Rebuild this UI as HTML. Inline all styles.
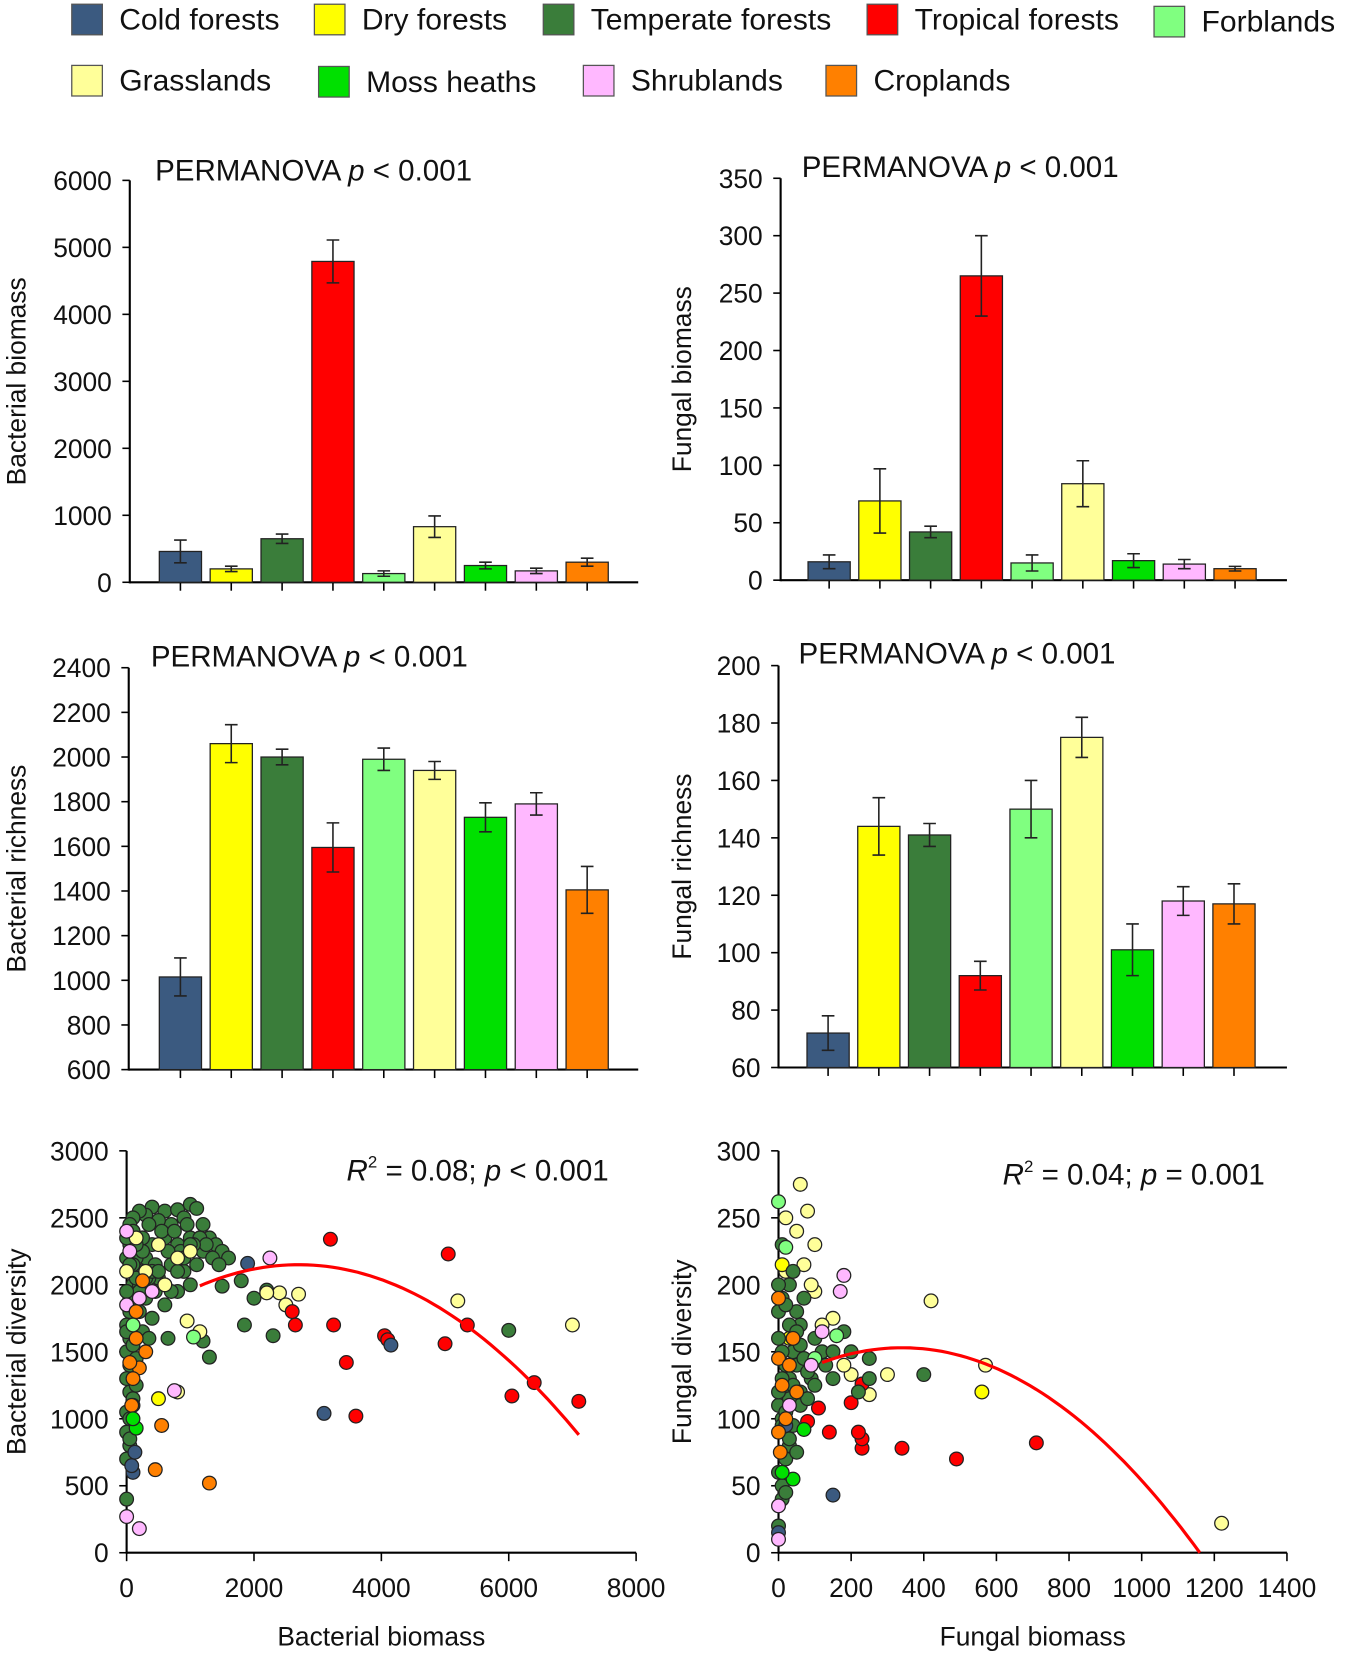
<!DOCTYPE html>
<html><head><meta charset="utf-8"><style>
html,body{margin:0;padding:0;background:#fff;}
svg{display:block;font-family:"Liberation Sans",Arial,sans-serif;}
</style></head><body>
<svg id="fig" width="1345" height="1654" viewBox="0 0 1275 1568" xmlns="http://www.w3.org/2000/svg">
<g id="legend"></g>
<g id="pA"></g>
<g id="pB"></g>
<g id="pC"></g>
<g id="pD"></g>
<g id="pE"></g>
<g id="pF"></g>
</svg>
<script>
const categories = ["Cold forests","Dry forests","Temperate forests","Tropical forests","Forblands","Grasslands","Moss heaths","Shrublands","Croplands"];
const colors = ["#3b5a80","#ffff00","#3a7d3a","#ff0000","#80ff80","#ffff99","#00e000","#ffb8ff","#ff8000"];
const bacBiomass = [460,200,650,4790,130,830,250,170,300];
const bacBiomassErr = [170,40,70,320,40,160,50,40,60];
const funBiomass = [16,69,42,265,15,84,17,14,10];
const funBiomassErr = [6,28,5,35,7,20,6,4,2];
const bacRich = [1015,2060,2000,1595,1990,1940,1730,1790,1405];
const bacRichErr = [85,85,35,110,50,40,65,50,105];
const funRich = [72,144,141,92,150,175,101,118,117];
const funRichErr = [6,10,4,5,10,7,9,5,7];
const ticksA = [0,1000,2000,3000,4000,5000,6000];
const ticksB = [0,50,100,150,200,250,300,350];
const ticksC = [600,800,1000,1200,1400,1600,1800,2000,2200,2400];
const ticksD = [60,80,100,120,140,160,180,200];
const ticksEy = [0,500,1000,1500,2000,2500,3000];
const ticksEx = [0,2000,4000,6000,8000];
const ticksFy = [0,50,100,150,200,250,300];
const ticksFx = [0,200,400,600,800,1000,1200,1400];
// group indices: 0 cold,1 dry,2 temperate,3 tropical,4 forb,5 grass,6 moss,7 shrub,8 crop
const bacX = [400,600,800,1000,1100,900,700,500,300,200,100,1200,1300,1400,1500,1600,1200,1000,800,600,400,300,200,100,50,700,900,1100,500,300,200,100,50,0,400,600,800,1000,150,50,0,50,0,0,100,250,50,0,150,350,450,650,1200,1500,1800,2000,2200,1850,1300,2300,6000,
 350,550,750,950,1150,1250,1350,1450,1050,850,650,450,250,150,50,0,100,200,300,400,500,600,700,800,900,1000,0,50,100,150,200,0,50,100,0,50,100,150,250,350,0,50,100,0,50,100,
 500,800,1000,300,600,150,0,5200,7000,2700,2400,2200,2500,950,1150,800,
 500,3200,5050,3250,5350,2600,2650,4050,4100,5000,3450,6400,6050,7100,3600,
 1900,3100,4150,100,80,130,
 2250,750,200,0,400,0,50,200,0,
 1300,450,550,300,200,100,150,250,150,50,80,
 1050,100,150,100];
const bacY = [2580,2550,2560,2600,2570,2500,2450,2480,2520,2550,2500,2450,2350,2300,2250,2200,2250,2350,2300,2350,2300,2200,2100,2000,1900,2150,2100,2150,2050,1900,1800,1700,1600,1500,1750,1850,1950,2000,1450,1200,1050,800,400,700,2400,2350,2300,2200,2200,2050,1950,1600,1580,1990,2030,1900,1960,1700,1460,1620,1660,
 2450,2400,2400,2450,2350,2300,2200,2150,2300,2250,2250,2150,2250,2300,2450,2350,2150,2000,2050,2100,2100,2000,1950,2100,2200,2300,1700,1800,1900,2050,1950,1300,1400,1550,1650,1000,1150,1250,1650,1600,900,850,1100,1950,2150,2400,
 2300,2200,2250,2100,2000,2350,2100,1880,1700,1930,1940,1940,1850,1730,1650,1200,
 1150,2340,2230,1700,1700,1800,1700,1620,1590,1560,1420,1270,1170,1130,1020,
 2160,1040,1550,600,650,750,
 2200,1210,180,270,1950,2400,2250,1900,1850,
 520,620,950,1500,1380,1300,1600,2030,1800,1420,1100,
 1610,1700,930,1000];
const bacG = [2,2,2,2,2,2,2,2,2,2,2,2,2,2,2,2,2,2,2,2,2,2,2,2,2,2,2,2,2,2,2,2,2,2,2,2,2,2,2,2,2,2,2,2,2,2,2,2,2,2,2,2,2,2,2,2,2,2,2,2,2,
 2,2,2,2,2,2,2,2,2,2,2,2,2,2,2,2,2,2,2,2,2,2,2,2,2,2,2,2,2,2,2,2,2,2,2,2,2,2,2,2,2,2,2,2,2,2,
 5,5,5,5,5,5,5,5,5,5,5,5,5,5,5,5,
 1,3,3,3,3,3,3,3,3,3,3,3,3,3,3,
 0,0,0,0,0,0,
 7,7,7,7,7,7,7,7,7,
 8,8,8,8,8,8,8,8,8,8,8,
 4,4,6,6];
const funX = [60,80,20,420,570,300,200,250,100,70,100,150,120,20,50,90,180,1220,
 560,10,30,
 710,490,340,230,230,220,140,200,230,110,80,
 400,250,220,150,130,180,100,60,40,20,10,30,50,70,30,10,40,0,20,30,10,0,50,60,90,120,150,200,250,
 0,10,20,30,40,50,60,70,80,0,10,20,30,40,50,0,10,20,30,0,10,20,0,10,20,30,40,60,80,100,
 150,20,0,
 0,20,160,100,
 40,70,10,
 180,170,0,0,120,90,30,
 0,0,10,20,0,40,30,5,50];
const funY = [275,255,250,188,140,133,133,118,230,215,195,175,170,210,240,200,140,22,
 120,215,160,
 82,70,78,78,85,90,90,112,126,108,98,
 133,145,120,130,140,165,160,170,150,130,100,120,180,190,200,230,210,180,70,80,40,20,75,110,130,150,150,150,130,
 160,150,140,130,125,140,155,145,135,200,190,185,170,160,165,110,95,105,115,60,50,45,120,130,90,85,95,120,115,125,
 43,95,15,
 262,228,162,145,
 55,92,60,
 207,195,10,35,165,140,110,
 190,145,125,100,90,160,140,75,120];
const funG = [5,5,5,5,5,5,5,5,5,5,5,5,5,5,5,5,5,5,
 1,1,1,
 3,3,3,3,3,3,3,3,3,3,3,
 2,2,2,2,2,2,2,2,2,2,2,2,2,2,2,2,2,2,2,2,2,2,2,2,2,2,2,2,2,
 2,2,2,2,2,2,2,2,2,2,2,2,2,2,2,2,2,2,2,2,2,2,2,2,2,2,2,2,2,2,
 0,0,0,
 4,4,4,4,
 6,6,6,
 7,7,7,7,7,7,7,
 8,8,8,8,8,8,8,8,8];
// quadratic fit coefficients (vertex form): vertex x, vertex y, curvature
const fitE = [2700,2150,-6.56e-5], fitErangeX=[1150,7100];
const fitF = [340,153,-2.275e-4], fitFrangeX=[120,1160];

const NS="http://www.w3.org/2000/svg";
function mk(parent,tag,attrs,text){const e=document.createElementNS(NS,tag);for(const k in attrs)e.setAttribute(k,attrs[k]);if(text!==undefined)e.textContent=text;parent.appendChild(e);return e;}
function lin(d0,d1,r0,r1){return v=>r0+(v-d0)*(r1-r0)/(d1-d0);}

// legend
const L=document.getElementById('legend');
const legPos=[[68,4],[298,4],[515,4],[822,4],[1094,6],[68,62],[302,63],[553,62],[783,62]];
categories.forEach((c,i)=>{
 const g=mk(L,'g',{});
 
 
 mk(g,'rect',{x:legPos[i][0],y:legPos[i][1],width:29,height:29,fill:colors[i],stroke:'#555','stroke-width':1.2});
 mk(g,'text',{x:legPos[i][0]+45,y:legPos[i][1]+24,'font-size':28.5,fill:'#111'},c);
});

function barPanel(id,vals,errs,ticks,ax,yZero,yTop,x1,off,step,tx,ty,ylabel,lx){
 const P=document.getElementById(id);
 const ymin=ticks[0],ymax=ticks[ticks.length-1];
 const sy=lin(ymin,ymax,yZero,yTop);
 mk(P,'line',{x1:ax,y1:yTop,x2:ax,y2:yZero+1,stroke:'#000','stroke-width':2});
 mk(P,'line',{x1:ax,y1:yZero,x2:x1,y2:yZero,stroke:'#000','stroke-width':2});
 ticks.forEach(t=>{
  mk(P,'line',{x1:ax-7,y1:sy(t),x2:ax,y2:sy(t),stroke:'#000','stroke-width':1.5});
  const tl=mk(P,'text',{x:ax-17,y:sy(t)+9,'font-size':25,'text-anchor':'end',fill:'#111'},t);
  
  
 });
 vals.forEach((v,i)=>{
  const cx=ax+off+step*i;
  mk(P,'line',{x1:cx,y1:yZero,x2:cx,y2:yZero+8,stroke:'#000','stroke-width':1.5});
  const b=mk(P,'rect',{x:cx-20,y:sy(v),width:40,height:yZero-sy(v),fill:colors[i],stroke:'#222','stroke-width':1.2});
  
  
  const e=errs[i];
  mk(P,'path',{d:`M${cx},${sy(v-e)}V${sy(v+e)}M${cx-6},${sy(v-e)}H${cx+6}M${cx-6},${sy(v+e)}H${cx+6}`,stroke:'#222','stroke-width':1.5,fill:'none'});
 });
 const t=mk(P,'text',{x:tx,y:ty,'font-size':28,fill:'#111'});
 
 
 t.innerHTML='PERMANOVA <tspan font-style="italic">p</tspan> &lt; 0.001';
 const yl=mk(P,'text',{x:lx,y:(yZero+yTop)/2,'font-size':25,'text-anchor':'middle',transform:`rotate(-90 ${lx} ${(yZero+yTop)/2})`,fill:'#111'},ylabel);
 
 
}
barPanel('pA',bacBiomass,bacBiomassErr,ticksA,123,552,171,605,48,48.2,147,171,'Bacterial biomass',24);
barPanel('pB',funBiomass,funBiomassErr,ticksB,740,550,169,1220,46,48.1,760,168,'Fungal biomass',655);
barPanel('pC',bacRich,bacRichErr,ticksC,122,1014,633,605,49,48.2,143,632,'Bacterial richness',24);
barPanel('pD',funRich,funRichErr,ticksD,738,1012,631,1220,47,48.1,757,629,'Fungal richness',655);

function scatterPanel(id,xs,ys,gs,xt,yt,ax,yZero,yTop,x1,fit,fr,xlabel,ylabel,lx,rtext,rx,ry){
 const P=document.getElementById(id);
 const sx=lin(xt[0],xt[xt.length-1],ax,x1);
 const sy=lin(yt[0],yt[yt.length-1],yZero,yTop);
 mk(P,'line',{x1:ax,y1:yTop,x2:ax,y2:yZero+1,stroke:'#000','stroke-width':2});
 mk(P,'line',{x1:ax,y1:yZero,x2:x1,y2:yZero,stroke:'#000','stroke-width':2});
 yt.forEach(t=>{
  mk(P,'line',{x1:ax-7,y1:sy(t),x2:ax,y2:sy(t),stroke:'#000','stroke-width':1.5});
  const tl=mk(P,'text',{x:ax-17,y:sy(t)+9,'font-size':25,'text-anchor':'end',fill:'#111'},t);
  
  
 });
 xt.forEach(t=>{
  mk(P,'line',{x1:sx(t),y1:yZero,x2:sx(t),y2:yZero+8,stroke:'#000','stroke-width':1.5});
  const tl=mk(P,'text',{x:sx(t),y:yZero+42,'font-size':25,'text-anchor':'middle',fill:'#111'},t);
  
  
 });
 xs.forEach((x,i)=>{
  const c=mk(P,'circle',{cx:sx(x),cy:sy(ys[i]),r:6.5,fill:colors[gs[i]],stroke:'#222','stroke-width':1.2});
  
  
 });
 let d='';
 for(let k=0;k<=60;k++){const x=fr[0]+(fr[1]-fr[0])*k/60;const y=fit[1]+fit[2]*(x-fit[0])*(x-fit[0]);d+=(k?'L':'M')+sx(x).toFixed(1)+','+sy(y).toFixed(1);}
 const fl=mk(P,'path',{d:d,stroke:'#ff0000','stroke-width':3,fill:'none'});
 
 
 const xl=mk(P,'text',{x:(ax+x1)/2,y:yZero+88,'font-size':25,'text-anchor':'middle',fill:'#111'},xlabel);
 
 
 const yl=mk(P,'text',{x:lx,y:(yZero+yTop)/2,'font-size':25,'text-anchor':'middle',transform:`rotate(-90 ${lx} ${(yZero+yTop)/2})`,fill:'#111'},ylabel);
 
 
 const r=mk(P,'text',{x:rx,y:ry,'font-size':28,'text-anchor':'end',fill:'#111'});
 
 
 r.innerHTML=rtext;
}
scatterPanel('pE',bacX,bacY,bacG,ticksEx,ticksEy,120,1472,1091,603,fitE,fitErangeX,'Bacterial biomass','Bacterial diversity',24,
 '<tspan font-style="italic">R</tspan><tspan font-size="16" dy="-12">2</tspan><tspan dy="12"> = 0.08; </tspan><tspan font-style="italic">p</tspan> &lt; 0.001',577,1119);
scatterPanel('pF',funX,funY,funG,ticksFx,ticksFy,738,1472,1091,1220,fitF,fitFrangeX,'Fungal biomass','Fungal diversity',655,
 '<tspan font-style="italic">R</tspan><tspan font-size="16" dy="-12">2</tspan><tspan dy="12"> = 0.04; </tspan><tspan font-style="italic">p</tspan> = 0.001',1199,1123);
</script>
</body></html>
